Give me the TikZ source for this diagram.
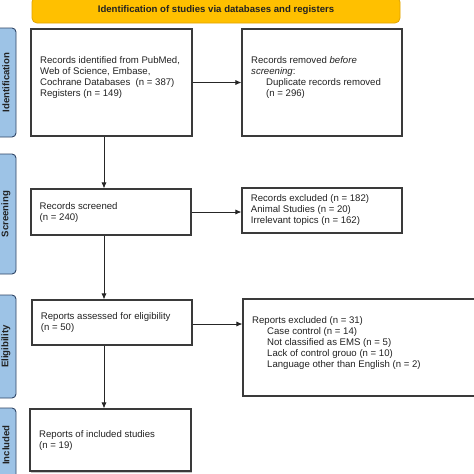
\documentclass[tikz,border=0pt]{standalone}
\usepackage{fontspec}
\setmainfont{Liberation Sans}
\usetikzlibrary{arrows.meta,calc,shadows}
\definecolor{bannerfill}{HTML}{FFC000}
\definecolor{bannerline}{HTML}{E0A300}
\definecolor{barfill}{HTML}{9DC3E6}
\definecolor{barline}{HTML}{2F4566}
\definecolor{boxline}{HTML}{3A3A3A}
\definecolor{txtcol}{HTML}{222222}
\tikzset{
  box/.style={draw=boxline, line width=1.1pt, fill=white, inner sep=0pt},
  txtnode/.style={font=\fontsize{9.6}{11}\selectfont, align=left, inner sep=0pt, text=txtcol, anchor=west},
  sidebar/.style={draw=barline, line width=0.9pt, fill=barfill, rounded corners=4pt, rotate=90,
    minimum height=20pt, inner sep=0pt, font=\bfseries\fontsize{9.6}{11}\selectfont, text=txtcol},
  banner/.style={draw=bannerline, line width=0.8pt, fill=bannerfill, rounded corners=5pt,
    inner sep=0pt, font=\bfseries\fontsize{9.6}{11}\selectfont, text=txtcol},
  arr/.style={draw=black!85, line width=0.8pt, -{Latex[length=6pt,width=5pt]}}
}
\begin{document}
\begin{tikzpicture}[x=1pt,y=-1pt]
\useasboundingbox (0,0) rectangle (474,474);
\clip (0,0) rectangle (474,474);
\fill[white] (0,0) rectangle (474,474);

% banner
\node[banner, minimum width=368pt, minimum height=26pt] (ban) at (216,10) {Identification of studies via databases and registers};

% side bars
\node[sidebar, minimum width=109pt] (s1) at (6,82.5) {Identification};
\node[sidebar, minimum width=120pt] (s2) at (6,214) {Screening};
\node[sidebar, minimum width=103pt] (s3) at (6,346.5) {Eligibility};
\node[sidebar, minimum width=74pt] (s4) at (6,445) {Included};

% boxes
\node[box, minimum width=161pt, minimum height=107pt] (b1) at (111.5,82.5) {};
\node[box, minimum width=160pt, minimum height=107pt] (b2) at (322,82.5) {};
\node[box, minimum width=160pt, minimum height=46pt] (b3) at (111,212) {};
\node[box, minimum width=160pt, minimum height=45pt] (b4) at (322,210.5) {};
\node[box, minimum width=160pt, minimum height=45pt] (b5) at (112,322.5) {};
\node[box, minimum width=240pt, minimum height=97pt] (b6) at (363,347.5) {};
\node[box, minimum width=161pt, minimum height=62pt,
  drop shadow={shadow xshift=1pt, shadow yshift=-2pt, fill=gray!45, opacity=1}] (b7) at (110.5,440) {};

% texts
\node[txtnode] (t1) at (40,77.5) {Records identified from PubMed,\\Web of Science, Embase,\\Cochrane Databases \ (n = 387)\\Registers (n = 149)};
\node[txtnode] (t2) at (251,77.5) {Records removed \textit{before}\\\textit{screening}:\\\hspace*{15pt}Duplicate records removed\\\hspace*{15pt}(n = 296)};
\node[txtnode] (t3) at (39.5,212.5) {Records screened\\(n = 240)};
\node[txtnode] (t4) at (250.7,210) {Records excluded (n = 182)\\Animal Studies (n = 20)\\Irrelevant topics (n = 162)};
\node[txtnode] (t5) at (40.7,322.5) {Reports assessed for eligibility\\(n = 50)};
\node[txtnode] (t6) at (252,343) {Reports excluded (n = 31)\\\hspace*{15pt}Case control (n = 14)\\\hspace*{15pt}Not classified as EMS (n = 5)\\\hspace*{15pt}Lack of control grouo (n = 10)\\\hspace*{15pt}Language other than English (n = 2)};
\node[txtnode] (t7) at (39,441) {Reports of included studies\\(n = 19)};

% connectors
\coordinate (col) at (104,0);
\draw[arr] (b1.south -| col) -- (b3.north -| col);
\draw[arr] (b3.south -| col) -- (b5.north -| col);
\draw[arr] (b5.south -| col) -- (b7.north -| col);
\draw[arr] (b1.east) -- (b1.east -| b2.west);
\draw[arr] (b3.east) -- (b3.east -| b4.west);
\draw[arr] ($(b5.east)+(0,1.5)$) -- ($(b5.east -| b6.west)+(0,1.5)$);
\end{tikzpicture}
\end{document}
